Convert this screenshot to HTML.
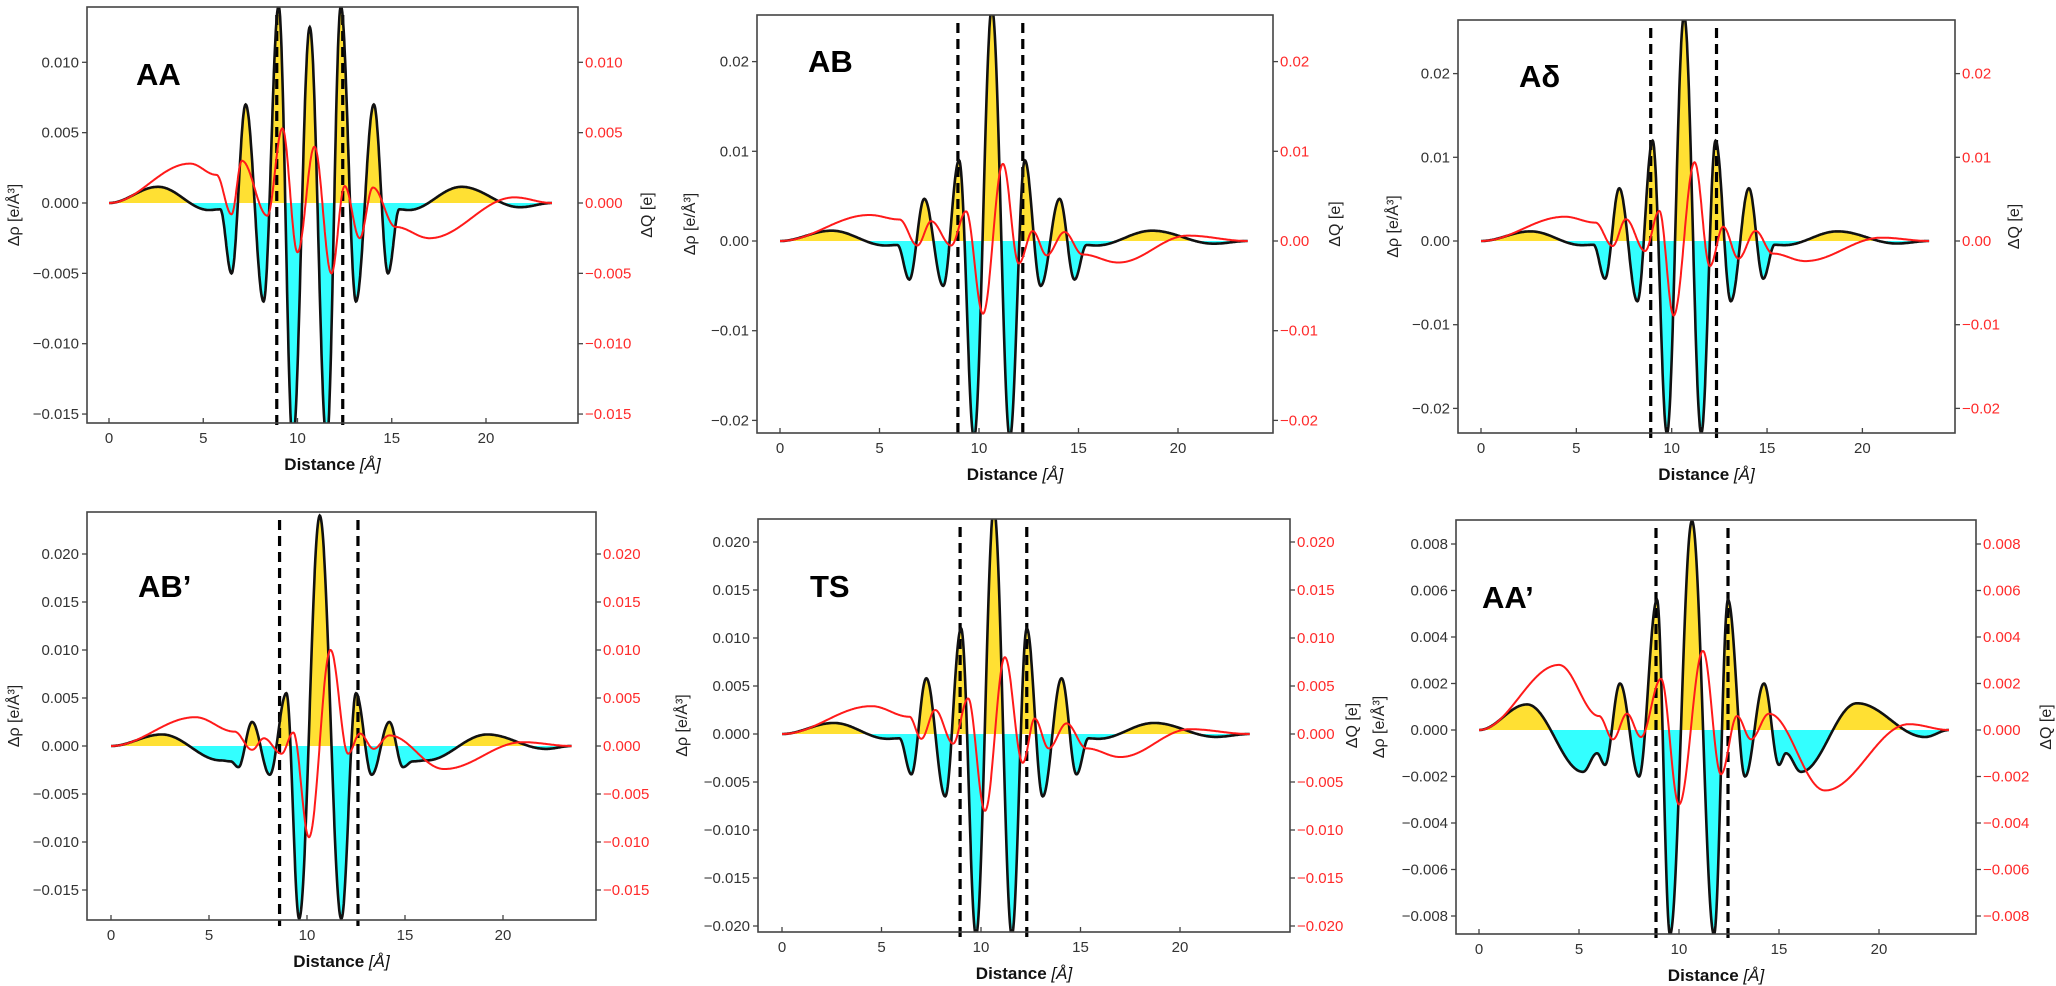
<!DOCTYPE html>
<html><head><meta charset="utf-8"><style>
html,body{margin:0;padding:0;background:#fff;}
svg{display:block;}
text{font-family:"Liberation Sans",sans-serif;}
</style></head><body>
<svg id="s" width="2056" height="986" viewBox="0 0 2056 986" xmlns="http://www.w3.org/2000/svg"></svg>
<script>
const S=document.getElementById('s');
const NS='http://www.w3.org/2000/svg';
function el(t,a,txt){const e=document.createElementNS(NS,t);for(const k in a)e.setAttribute(k,a[k]);if(txt!==undefined)e.textContent=txt;S.appendChild(e);return e;}
function interp(knots,x){
  if(x<=knots[0][0])return knots[0][1];
  for(let i=0;i<knots.length-1;i++){const a=knots[i],b=knots[i+1];
    if(x<=b[0]){const t=(x-a[0])/(b[0]-a[0]);return a[1]+(b[1]-a[1])*(1-Math.cos(Math.PI*t))/2;}}
  return knots[knots.length-1][1];
}
function rho(t1,p1,t2,p2,t3,c){
  return [[0,0],[2.6,1.15],[5.3,-0.5],[5.9,-0.45],[6.5,t1],[7.25,p1],[8.2,t2],[9.0,p2],[9.75,t3],[10.65,c],[11.55,t3],[12.3,p2],[13.1,t2],[14.05,p1],[14.8,t1],[15.4,-0.45],[15.9,-0.5],[18.7,1.15],[21.8,-0.3],[23.5,0]];
}
const P=[
 {L:87,T:7,R:578,B:423,x0:109,xs:18.85,y0:203,ys:14.07,ticks:[10,5,0,-5,-10,-15],dec:3,d:[8.9,12.4],lab:'AA',lx:136,ly:85,ylx:14,qlx:647,
  rho:rho(-5,7,-7,14,-17,12.5),
  q:[[0,0],[4.3,2.8],[5.7,2.0],[6.5,-0.8],[7.05,3],[8.4,-0.9],[9.2,5.3],[10.0,-3.5],[10.9,4],[11.8,-5],[12.5,1.2],[13.3,-2.5],[14.0,1.1],[15.2,-1.7],[17.0,-2.5],[21.5,0.4],[23.5,0]]},
 {L:757,T:15,R:1273,B:433,x0:780,xs:19.9,y0:241,ys:8.97,ticks:[20,10,0,-10,-20],dec:2,d:[8.94,12.2],lab:'AB',lx:808,ly:72,ylx:690,qlx:1335,
  rho:rho(-4.3,4.7,-5,9,-22,26),
  q:[[0,0],[4.5,2.9],[6.0,2.4],[6.9,-0.5],[7.6,2.2],[8.6,-0.5],[9.35,3.3],[10.2,-8.1],[11.2,8.6],[12.0,-2.5],[12.7,1.1],[13.4,-1.6],[14.3,1.0],[15.2,-1.5],[17.0,-2.4],[20.5,0.6],[23.5,0]]},
 {L:1458,T:20,R:1955,B:433,x0:1481,xs:19.07,y0:241,ys:8.37,ticks:[20,10,0,-10,-20],dec:2,d:[8.9,12.35],lab:'A\u03B4',lx:1519,ly:87,ylx:1393,qlx:2014,
  rho:rho(-4.5,6.3,-7.2,12,-23,27),
  q:[[0,0],[4.4,2.9],[6.0,2.2],[6.9,-0.6],[7.6,2.6],[8.6,-1.2],[9.35,3.6],[10.1,-8.9],[11.2,9.4],[12.0,-3],[12.7,1.7],[13.5,-2.1],[14.4,1.2],[15.3,-1.5],[17.0,-2.4],[21.0,0.4],[23.5,0]]},
 {L:87,T:512,R:596,B:920,x0:111,xs:19.6,y0:746,ys:9.6,ticks:[20,15,10,5,0,-5,-10,-15],dec:3,d:[8.6,12.6],lab:'AB\u2019',lx:138,ly:597,ylx:14,qlx:null,
  rho:[[0,0],[2.6,1.2],[5.6,-1.5],[6.1,-1.6],[6.5,-2.2],[7.2,2.5],[8.1,-3],[8.95,5.5],[9.6,-18],[10.65,24],[11.75,-18],[12.5,5.5],[13.3,-3],[14.2,2.5],[14.9,-2.2],[15.4,-1.6],[16.1,-1.5],[19.2,1.2],[22.2,-0.3],[23.5,0]],
  q:[[0,0],[4.3,3],[6.3,1.5],[7.2,-0.4],[7.8,0.8],[8.7,-0.8],[9.3,1.4],[10.1,-9.5],[11.2,10],[12.1,-0.8],[12.7,1.3],[13.4,-0.3],[14.2,1.1],[17,-2.4],[21,0.4],[23.5,0]]},
 {L:758,T:519,R:1290,B:932,x0:782,xs:19.9,y0:734,ys:9.6,ticks:[20,15,10,5,0,-5,-10,-15,-20],dec:3,d:[8.95,12.3],lab:'TS',lx:810,ly:597,ylx:682,qlx:1352,
  rho:rho(-4.2,5.8,-6.5,11,-21,23.5),
  q:[[0,0],[4.5,2.9],[6.4,1.8],[7.0,-0.5],[7.7,2.5],[8.6,-1],[9.35,3.7],[10.2,-8],[11.2,8],[12.1,-3],[12.7,1.6],[13.4,-1.5],[14.3,1.1],[15.3,-1.5],[17,-2.4],[20.5,0.5],[23.5,0]]},
 {L:1456,T:520,R:1976,B:934,x0:1479,xs:20,y0:730,ys:23.25,ticks:[8,6,4,2,0,-2,-4,-6,-8],dec:3,d:[8.85,12.45],lab:'AA\u2019',lx:1482,ly:608,ylx:1379,qlx:2046,
  rho:[[0,0],[2.4,1.1],[5.2,-1.8],[5.9,-1.0],[6.3,-1.5],[7.05,2],[8.0,-2],[8.9,5.6],[9.55,-8.8],[10.65,9],[11.75,-8.8],[12.45,5.6],[13.3,-2],[14.25,2],[15.0,-1.5],[15.35,-1.0],[16.1,-1.8],[18.9,1.15],[22.3,-0.3],[23.5,0]],
  q:[[0,0],[4.0,2.8],[6.0,0.6],[6.7,-0.4],[7.4,0.7],[8.1,-0.3],[9.1,2.2],[10.0,-3.2],[11.2,3.4],[12.1,-1.9],[12.9,0.6],[13.6,-0.4],[14.5,0.7],[17.3,-2.6],[21.5,0.25],[23.5,0]]}
];
function fmt(v,dec){const n=v/1000;let s=Math.abs(n).toFixed(dec);return (n<0?'\u2212':'')+s;}
P.forEach((p,i)=>{
  const cid='c'+i;
  const cp=el('clipPath',{id:cid});
  const r=document.createElementNS(NS,'rect');r.setAttribute('x',p.L);r.setAttribute('y',p.T);r.setAttribute('width',p.R-p.L);r.setAttribute('height',p.B-p.T);cp.appendChild(r);
  const X=x=>p.x0+x*p.xs, Y=v=>p.y0-v*p.ys;
  let pos='M'+X(0)+','+p.y0, neg='M'+X(0)+','+p.y0, line='', red='';
  for(let k=0;k<=940;k++){const x=23.5*k/940;const v=interp(p.rho,x);const q=interp(p.q,x);
    pos+=' L'+X(x).toFixed(1)+','+Y(Math.max(v,0)).toFixed(1);
    neg+=' L'+X(x).toFixed(1)+','+Y(Math.min(v,0)).toFixed(1);
    line+=(k?' L':'M')+X(x).toFixed(1)+','+Y(v).toFixed(1);
    red+=(k?' L':'M')+X(x).toFixed(1)+','+Y(q).toFixed(1);}
  pos+=' L'+X(23.5)+','+p.y0+'Z'; neg+=' L'+X(23.5)+','+p.y0+'Z';
  el('path',{d:pos,fill:'#ffe033','clip-path':'url(#'+cid+')'});
  el('path',{d:neg,fill:'#33ffff','clip-path':'url(#'+cid+')'});
  p.d.forEach(dx=>el('line',{x1:X(dx),x2:X(dx),y1:p.T+8,y2:p.B+6,stroke:'#000','stroke-width':3.2,'stroke-dasharray':'10,6'}));
  el('path',{d:line,fill:'none',stroke:'#111','stroke-width':2.6,'clip-path':'url(#'+cid+')'});
  el('path',{d:red,fill:'none',stroke:'#ff1a1a','stroke-width':2,'clip-path':'url(#'+cid+')'});
  el('rect',{x:p.L,y:p.T,width:p.R-p.L,height:p.B-p.T,fill:'none',stroke:'#444','stroke-width':1.6});
  p.ticks.forEach(t=>{const y=Y(t);
    el('line',{x1:p.L-5,x2:p.L,y1:y,y2:y,stroke:'#444','stroke-width':1.3});
    el('line',{x1:p.R,x2:p.R+5,y1:y,y2:y,stroke:'#444','stroke-width':1.3});
    el('text',{x:p.L-8,y:y+5,'font-size':15,fill:'#333','text-anchor':'end'},fmt(t,p.dec));
    el('text',{x:p.R+7,y:y+5,'font-size':15,fill:'#ff2a2a'},fmt(t,p.dec));
  });
  [0,5,10,15,20].forEach(t=>{const x=X(t);
    el('line',{x1:x,x2:x,y1:p.B,y2:p.B-5,stroke:'#444','stroke-width':1.3});
    el('text',{x:x,y:p.B+20,'font-size':15,fill:'#333','text-anchor':'middle'},String(t));});
  const cx=(p.L+p.R)/2;
  const xl=el('text',{x:cx,y:p.B+47,'font-size':17,fill:'#111','text-anchor':'middle'});
  const b=document.createElementNS(NS,'tspan');b.setAttribute('font-weight','bold');b.textContent='Distance ';xl.appendChild(b);
  const u=document.createElementNS(NS,'tspan');u.setAttribute('font-style','italic');u.textContent='[\u00C5]';xl.appendChild(u);
  const cy=(p.T+p.B)/2;
  el('text',{x:0,y:0,'font-size':16,fill:'#222','text-anchor':'middle',transform:'translate('+(p.ylx+5)+','+cy+') rotate(-90)'},'\u0394\u03C1 [e/\u00C5\u00B3]');
  if(p.qlx)el('text',{x:0,y:0,'font-size':16,fill:'#222','text-anchor':'middle',transform:'translate('+(p.qlx+5)+','+cy+') rotate(-90)'},'\u0394Q [e]');
  el('text',{x:p.lx,y:p.ly,'font-size':31,'font-weight':'bold',fill:'#000'},p.lab);
});
</script>
</body></html>
